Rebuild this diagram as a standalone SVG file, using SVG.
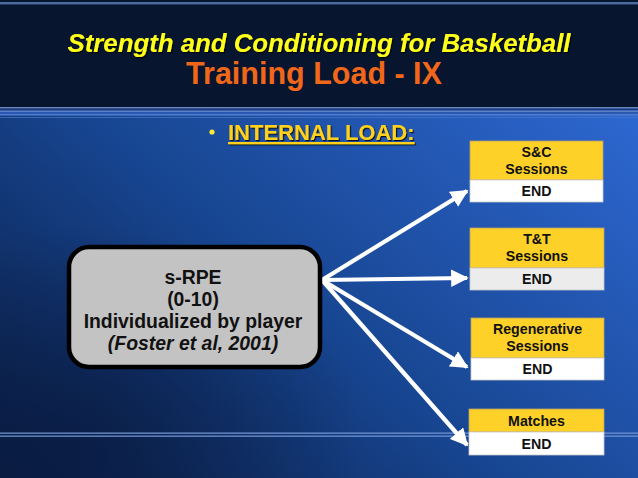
<svg xmlns="http://www.w3.org/2000/svg" width="638" height="478" viewBox="0 0 638 478">
<defs>
<linearGradient id="bg" x1="0" y1="1" x2="1" y2="0.15">
<stop offset="0" stop-color="#0a1d45"/>
<stop offset="0.45" stop-color="#174590"/>
<stop offset="1" stop-color="#2f6ad6"/>
</linearGradient>
<radialGradient id="dark" cx="0.12" cy="0.92" r="0.45">
<stop offset="0" stop-color="#08183a" stop-opacity="0.6"/>
<stop offset="1" stop-color="#08183a" stop-opacity="0"/>
</radialGradient>
<marker id="ah" viewBox="0 0 10 10" refX="9" refY="5" markerWidth="4.2" markerHeight="4.2" orient="auto" markerUnits="strokeWidth">
<path d="M0,0 L10,5 L0,10 z" fill="#ffffff"/>
</marker>
<filter id="sh" x="-5%" y="-5%" width="115%" height="130%">
<feDropShadow dx="1.2" dy="1.2" stdDeviation="0.4" flood-color="#000" flood-opacity="0.8"/>
</filter>
</defs>
<style>
.t{font-family:"Liberation Sans",Arial,sans-serif;font-weight:bold;text-anchor:middle}
.box{font-size:14.2px;fill:#111}
.big{font-size:19.4px;fill:#111}
.yl{fill:#fdd127;stroke:#b9a06a;stroke-width:0.8}
.wh{fill:#ffffff;stroke:#c8c8c8;stroke-width:0.8}
.conn{stroke:#ffffff;stroke-width:4.2;fill:none;marker-end:url(#ah)}
</style>
<rect width="638" height="478" fill="url(#bg)"/>
<rect width="638" height="478" fill="url(#dark)"/>
<rect x="0" y="0" width="638" height="107" fill="#08152e"/>
<rect x="0" y="2" width="638" height="2" fill="#4d6a9e"/>
<rect x="0" y="4" width="638" height="1" fill="#22365e"/>
<rect x="0" y="107" width="638" height="1.5" fill="#6a86bd"/>
<rect x="0" y="108.5" width="638" height="2" fill="#1f3a78"/>
<rect x="0" y="110.5" width="638" height="1.5" fill="#5a80c8"/>
<rect x="0" y="112" width="638" height="2" fill="#2a58b0"/>
<rect x="0" y="114" width="638" height="1.5" fill="#4f7ed0"/>
<rect x="0" y="117" width="638" height="1" fill="#4a78c8" opacity="0.7"/>
<rect x="0" y="432.5" width="638" height="1.3" fill="#6f92d0"/>
<rect x="0" y="435.5" width="638" height="1.3" fill="#6f92d0"/>
<g id="title">
<text class="t" x="319" y="52" font-size="25.8" font-style="italic" fill="#ffff1a" filter="url(#sh)">Strength and Conditioning for Basketball</text>
<text class="t" x="314" y="84" font-size="30.5" fill="#f0671a">Training Load - IX</text>
</g>
<g id="bullet">
<circle cx="212" cy="132" r="2.6" fill="#ffea33"/>
<text x="228" y="140" font-family="'Liberation Sans',Arial,sans-serif" font-weight="bold" font-size="22" fill="#ffd11a" text-decoration="underline" filter="url(#sh)">INTERNAL LOAD:</text>
</g>
<g id="connectors">
<line class="conn" x1="322" y1="280" x2="467" y2="191"/>
<line class="conn" x1="322" y1="280" x2="467" y2="278"/>
<line class="conn" x1="322" y1="280" x2="467" y2="367"/>
<line class="conn" x1="322" y1="280" x2="467" y2="445"/>
</g>
<g id="srpe">
<rect x="69" y="247" width="251" height="120" rx="20" fill="#c3c3c3" stroke="#000" stroke-width="4.5"/>
<text class="t big" x="193" y="284">s-RPE</text>
<text class="t big" x="193" y="306">(0-10)</text>
<text class="t big" x="193" y="328">Individualized by player</text>
<text class="t big" x="193" y="350" font-style="italic">(Foster et al, 2001)</text>
</g>
<g id="sc">
<rect class="yl" x="470" y="141" width="133" height="39"/>
<rect class="wh" x="470" y="180" width="133" height="22"/>
<text class="t box" x="536.5" y="157">S&amp;C</text>
<text class="t box" x="536.5" y="174">Sessions</text>
<text class="t box" x="536.5" y="196">END</text>
</g>
<g id="tt">
<rect class="yl" x="470" y="228" width="134" height="40"/>
<rect class="wh" x="470" y="268" width="134" height="22" style="fill:#ececec"/>
<text class="t box" x="537" y="244">T&amp;T</text>
<text class="t box" x="537" y="261">Sessions</text>
<text class="t box" x="537" y="284">END</text>
</g>
<g id="regen">
<rect class="yl" x="471" y="318" width="133" height="40"/>
<rect class="wh" x="471" y="358" width="133" height="22"/>
<text class="t box" x="537.5" y="334">Regenerative</text>
<text class="t box" x="537.5" y="351">Sessions</text>
<text class="t box" x="537.5" y="374">END</text>
</g>
<g id="matches">
<rect class="yl" x="469" y="409" width="135" height="23"/>
<rect class="wh" x="469" y="432" width="135" height="23"/>
<text class="t box" x="536.5" y="426">Matches</text>
<text class="t box" x="536.5" y="449">END</text>
</g>
</svg>
